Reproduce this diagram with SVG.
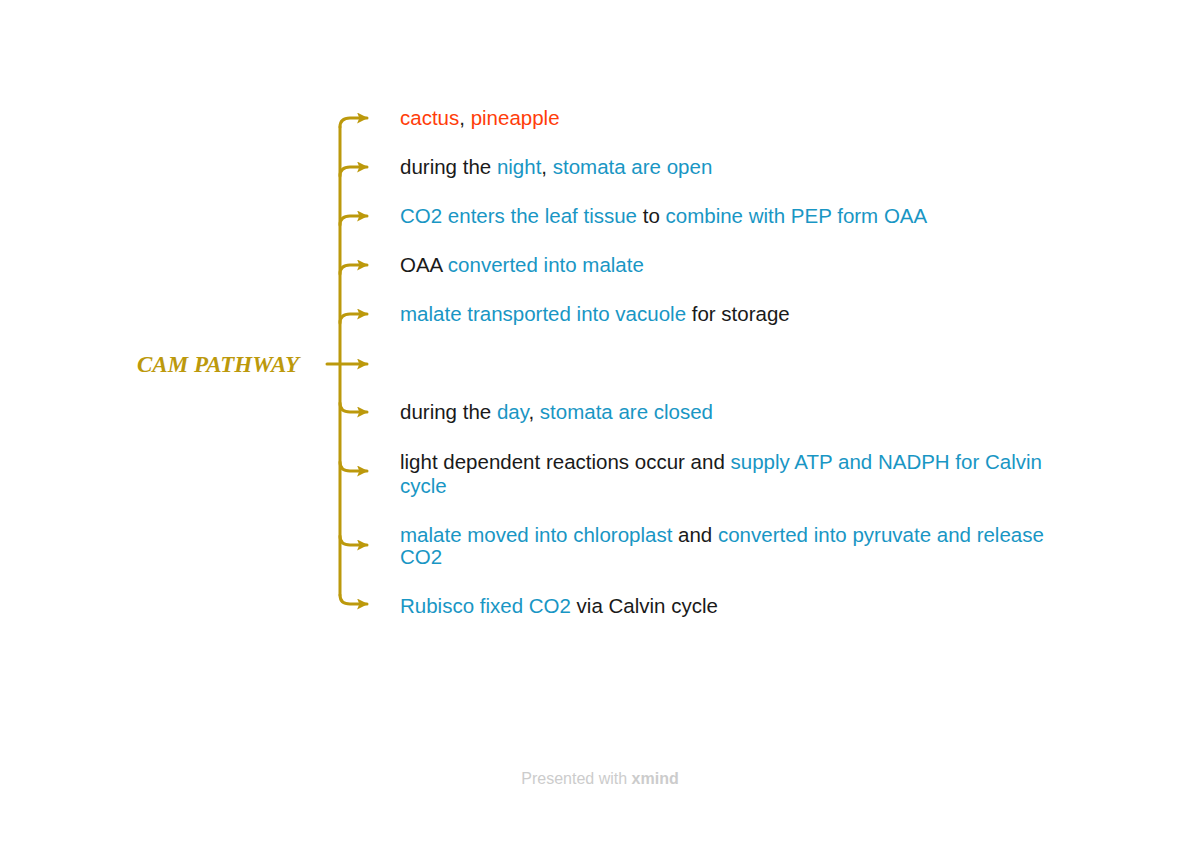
<svg xmlns="http://www.w3.org/2000/svg" width="1200" height="848" viewBox="0 0 1200 848">
<style>
.ln{fill:none;stroke:#BC990C;stroke-width:3;stroke-linecap:round}
.t{font-family:"Liberation Sans",Arial,sans-serif;font-size:20.5px;fill:#1a1a1a}
.b{fill:#1996C4}
.r{fill:#FF3D0A}
.title{font-family:"Liberation Serif","Times New Roman",serif;font-style:italic;font-weight:bold;font-size:23px;fill:#BC990C}
.wm{font-family:"Liberation Sans",Arial,sans-serif;font-size:16px;fill:#cccccc}
</style>
<defs>
<marker id="ah" viewBox="0 0 10 10" refX="9" refY="5" markerWidth="11" markerHeight="11" markerUnits="userSpaceOnUse" orient="auto">
<path d="M0,0 L10,5 L0,10 L2,5 Z" fill="#BC990C"/>
</marker>
</defs>
<g id="connectors">
<path class="ln" d="M340,127 L340,595"/>
<path class="ln" d="M327,364 L367,364" marker-end="url(#ah)"/>
<path class="ln" d="M340,127 Q340,118 350,118 L367,118" marker-end="url(#ah)"/>
<path class="ln" d="M340,176 Q340,167 350,167 L367,167" marker-end="url(#ah)"/>
<path class="ln" d="M340,225 Q340,216 350,216 L367,216" marker-end="url(#ah)"/>
<path class="ln" d="M340,274 Q340,265 350,265 L367,265" marker-end="url(#ah)"/>
<path class="ln" d="M340,323 Q340,314 350,314 L367,314" marker-end="url(#ah)"/>
<path class="ln" d="M340,403 Q340,412 350,412 L367,412" marker-end="url(#ah)"/>
<path class="ln" d="M340,462 Q340,471 350,471 L367,471" marker-end="url(#ah)"/>
<path class="ln" d="M340,536 Q340,545 350,545 L367,545" marker-end="url(#ah)"/>
<path class="ln" d="M340,595 Q340,604 350,604 L367,604" marker-end="url(#ah)"/>
</g>
<g id="root"><text class="title" x="137" y="372">CAM PATHWAY</text></g>
<g id="n1"><text class="t" x="400" y="125"><tspan class="r">cactus</tspan>, <tspan class="r">pineapple</tspan></text></g>
<g id="n2"><text class="t" x="400" y="174">during the <tspan class="b">night</tspan>, <tspan class="b">stomata are open</tspan></text></g>
<g id="n3"><text class="t" x="400" y="223"><tspan class="b">CO2 enters the leaf tissue</tspan> to <tspan class="b">combine with PEP form OAA</tspan></text></g>
<g id="n4"><text class="t" x="400" y="272">OAA <tspan class="b">converted into malate</tspan></text></g>
<g id="n5"><text class="t" x="400" y="321"><tspan class="b">malate transported into vacuole</tspan> for storage</text></g>
<g id="n6"><text class="t" x="400" y="419">during the <tspan class="b">day</tspan>, <tspan class="b">stomata are closed</tspan></text></g>
<g id="n7"><text class="t" x="400" y="469">light dependent reactions occur and <tspan class="b">supply ATP and NADPH for Calvin</tspan></text><text class="t b" x="400" y="493">cycle</text></g>
<g id="n8"><text class="t" x="400" y="542"><tspan class="b">malate moved into chloroplast</tspan> and <tspan class="b">converted into pyruvate and release</tspan></text><text class="t b" x="400" y="564">CO2</text></g>
<g id="n9"><text class="t" x="400" y="613"><tspan class="b">Rubisco fixed CO2</tspan> via Calvin cycle</text></g>
<g id="watermark"><text class="wm" x="600" y="784" text-anchor="middle">Presented with <tspan font-weight="bold">xmind</tspan></text></g>
</svg>
